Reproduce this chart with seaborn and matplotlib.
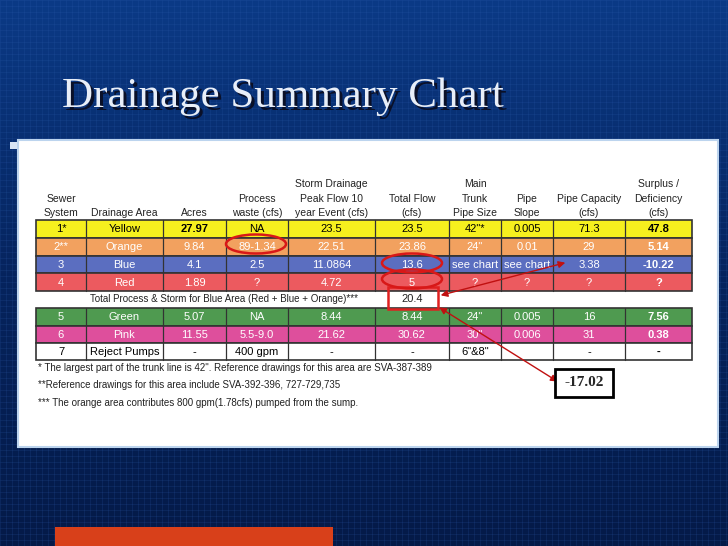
import numpy as np
import matplotlib
matplotlib.use("Agg")
import matplotlib.pyplot as plt
from matplotlib.patches import Rectangle, Ellipse, FancyArrowPatch
from matplotlib.colors import LinearSegmentedColormap
import seaborn as sns

sns.set_theme(style="white")

title = "Drainage Summary Chart"
header = ["Sewer\nSystem", "Drainage Area", "Acres", "Process\nwaste (cfs)",
          "Storm Drainage\nPeak Flow 10\nyear Event (cfs)", "Total Flow\n(cfs)",
          "Main\nTrunk\nPipe Size", "Pipe\nSlope", "Pipe Capacity\n(cfs)", "Surplus /\nDeficiency\n(cfs)"]
sewer = ["1*", "2**", "3", "4", "5", "6", "7"]
area = ["Yellow", "Orange", "Blue", "Red", "Green", "Pink", "Reject Pumps"]
acres = ["27.97", "9.84", "4.1", "1.89", "5.07", "11.55", "-"]
process = ["NA", "89-1.34", "2.5", "?", "NA", "5.5-9.0", "400 gpm"]
storm = ["23.5", "22.51", "11.0864", "4.72", "8.44", "21.62", "-"]
total = ["23.5", "23.86", "13.6", "5", "8.44", "30.62", "-"]
trunk = ['42"*', '24"', "see chart", "?", '24"', '30"', '6"&8"']
slope = ["0.005", "0.01", "see chart", "?", "0.005", "0.006", ""]
capacity = ["71.3", "29", "3.38", "?", "16", "31", "-"]
surplus = ["47.8", "5.14", "-10.22", "?", "7.56", "0.38", "-"]
row_colors = ["#f6f01e", "#f2a15f", "#5b6ec0", "#ec5a5f", "#4f9a50", "#de4f9c", "#ffffff"]
text_colors = ["black", "white", "white", "white", "white", "white", "black"]
blue_total_label = "Total Process & Storm for Blue Area (Red + Blue + Orange)***"
blue_total = "20.4"
deficit = "-17.02"
footnotes = ['* The largest part of the trunk line is 42". Reference drawings for this area are SVA-387-389',
             "**Reference drawings for this area include SVA-392-396, 727-729,735",
             "*** The orange area contributes 800 gpm(1.78cfs) pumped from the sump."]

W, H = 728, 546
fig = plt.figure(figsize=(7.28, 5.46), dpi=100)
ax = fig.add_axes([0, 0, 1, 1])
ax.set_xlim(0, W); ax.set_ylim(H, 0); ax.axis("off")

grad = np.linspace(0, 1, 256).reshape(-1, 1)
bg = LinearSegmentedColormap.from_list("bg", ["#0b3a86", "#06245e", "#041a48"])
ax.imshow(grad, cmap=bg, extent=[0, W, H, 0], aspect="auto", zorder=0)
for x in np.arange(0, W, 6):
    ax.plot([x, x], [0, H], color="#3060b0", lw=0.4, alpha=0.3, zorder=0.5)
for y in np.arange(0, H, 6):
    ax.plot([0, W], [y, y], color="#3060b0", lw=0.4, alpha=0.3, zorder=0.5)

ax.text(65, 100, title, fontsize=31, family="Liberation Serif", color="#0a1028", va="center", zorder=2)
ax.text(62, 97, title, fontsize=31, family="Liberation Serif", color="#e8eef8", va="center", zorder=3)

ax.add_patch(Rectangle((18, 140), 700, 307, facecolor="white", edgecolor="#bcd4ee", lw=1.5, zorder=1))
ax.add_patch(Rectangle((10, 142), 7, 7, facecolor="#d8e4f4", edgecolor="none", zorder=1))
ax.add_patch(Rectangle((55, 527), 278, 19, facecolor="#d8401a", edgecolor="none", zorder=1))

cols = [36, 86, 163, 226, 288, 375, 449, 501, 553, 625, 692]
tops = [220, 238, 256, 273, 308, 326, 343]
bots = [238, 256, 273, 291, 326, 343, 360]
fnt = dict(family="Liberation Sans", fontsize=8, ha="center", va="center", zorder=4)

for j, h in enumerate(header):
    cx = (cols[j] + cols[j + 1]) / 2
    ax.text(cx, 218, h, linespacing=1.55, **{**fnt, "fontsize": 7.5, "va": "bottom", "color": "#222"})

data = [sewer, area, acres, process, storm, total, trunk, slope, capacity, surplus]
for i in range(7):
    ax.add_patch(Rectangle((cols[0], tops[i]), cols[-1] - cols[0], bots[i] - tops[i],
                           facecolor=row_colors[i], edgecolor="#333", lw=1.2, zorder=2))
    for x in cols[1:-1]:
        ax.plot([x, x], [tops[i], bots[i]], color="#333", lw=0.9, zorder=3)
    for j in range(10):
        cx = (cols[j] + cols[j + 1]) / 2
        ax.text(cx, (tops[i] + bots[i]) / 2 + 0.5, data[j][i], color=text_colors[i],
                fontweight="bold" if j == 9 or (i == 0 and j == 2) else "normal", **fnt)

ax.text(224, 299.5, blue_total_label, color="#222", **{**fnt, "fontsize": 7})
ax.text(412, 299.5, blue_total, color="#222", **fnt)
ax.add_patch(Rectangle((388, 287), 50, 22, facecolor="none", edgecolor="#e02020", lw=1.8, zorder=5))

for cx, cy, w in [(412, 263, 60), (412, 279, 60), (256, 244, 60)]:
    ax.add_patch(Ellipse((cx, cy), w, 19, facecolor="none", edgecolor="#d81818", lw=1.8, zorder=5))

for (x0, y0), (x1, y1) in [((438, 296), (568, 262)), ((437, 306), (560, 383))]:
    ax.add_patch(FancyArrowPatch((x0, y0), (x1, y1), arrowstyle="<|-|>", mutation_scale=10,
                                 color="#c01010", lw=1.0, zorder=6))

ax.add_patch(Rectangle((555, 369), 58, 28, facecolor="white", edgecolor="black", lw=2, zorder=7))
ax.text(584, 383, deficit, family="Liberation Serif", fontsize=11, fontweight="bold",
        ha="center", va="center", zorder=8)

for k, t in enumerate(footnotes):
    ax.text(38, 368 + 17.5 * k, t, color="#222", **{**fnt, "fontsize": 7, "ha": "left"})

fig.savefig("out.png", dpi=100)
